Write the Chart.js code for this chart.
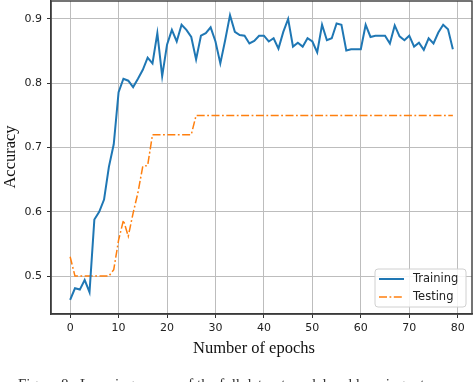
<!DOCTYPE html>
<html>
<head>
<meta charset="utf-8">
<script src="https://cdn.jsdelivr.net/npm/chart.js@4/dist/chart.umd.min.js"></script>
<style>
html,body{margin:0;padding:0;background:#fff;}
canvas{display:block;}
</style>
</head>
<body>
<canvas id="c" width="474" height="382"></canvas>
<script>
const seriesNames = ["Training", "Testing"];
const training = [0.463,0.481,0.479,0.494,0.475,0.588,0.600,0.619,0.670,0.705,
  0.786,0.807,0.804,0.794,0.807,0.821,0.840,0.831,0.878,0.811,
  0.860,0.883,0.865,0.891,0.883,0.872,0.837,0.874,0.878,0.887,
  0.865,0.831,0.867,0.906,0.880,0.875,0.874,0.862,0.866,0.874,
  0.874,0.865,0.870,0.854,0.880,0.900,0.857,0.863,0.857,0.870,
  0.865,0.848,0.891,0.867,0.870,0.893,0.891,0.851,0.853,0.853,
  0.853,0.891,0.872,0.874,0.874,0.874,0.862,0.890,0.873,0.867,
  0.874,0.857,0.863,0.852,0.870,0.862,0.879,0.891,0.884,0.853];
const testing = [0.530,0.500,0.500,0.500,0.500,0.500,0.500,0.500,0.500,0.510,
  0.556,0.587,0.562,0.598,0.630,0.671,0.672,0.720,0.720,0.720,
  0.720,0.720,0.720,0.720,0.720,0.720,0.750,0.750,0.750,0.750,
  0.750,0.750,0.750,0.750,0.750,0.750,0.750,0.750,0.750,0.750,
  0.750,0.750,0.750,0.750,0.750,0.750,0.750,0.750,0.750,0.750,
  0.750,0.750,0.750,0.750,0.750,0.750,0.750,0.750,0.750,0.750,
  0.750,0.750,0.750,0.750,0.750,0.750,0.750,0.750,0.750,0.750,
  0.750,0.750,0.750,0.750,0.750,0.750,0.750,0.750,0.750,0.750];
const xTicks = [0,10,20,30,40,50,60,70,80];
const yTicks = [0.5,0.6,0.7,0.8,0.9];
const xTitle = "Number of epochs";
const yTitle = "Accuracy";
const caption = "Figure 8:  Learning curves of the full dataset model and learning rate";

const epochs = training.map((_, i) => i);
const toXY = arr => arr.map((v, i) => ({x: epochs[i], y: v}));

const decor = {
  id: 'decor',
  afterDraw(chart) {
    const ctx = chart.ctx;
    const a = chart.chartArea;
    ctx.save();
    ctx.strokeStyle = '#3a3a3a';
    ctx.lineWidth = 1.4;
    ctx.strokeRect(a.left, a.top, a.right - a.left, a.bottom - a.top);
    ctx.fillStyle = '#111';
    ctx.font = '16.5px "Liberation Serif", serif';
    ctx.textAlign = 'center';
    ctx.textBaseline = 'alphabetic';
    ctx.fillText(xTitle, 254, 353);
    ctx.save();
    ctx.translate(15, 157);
    ctx.rotate(-Math.PI / 2);
    ctx.fillText(yTitle, 0, 0);
    ctx.restore();
    ctx.font = '15px "Liberation Serif", serif';
    ctx.textAlign = 'left';
    ctx.fillStyle = '#333';
    ctx.fillText(caption, 18, 389);
    const lx = 375, ly = 269, lw = 91, lh = 38;
    ctx.beginPath();
    if (ctx.roundRect) ctx.roundRect(lx, ly, lw, lh, 3); else ctx.rect(lx, ly, lw, lh);
    ctx.fillStyle = 'rgba(255,255,255,0.85)';
    ctx.fill();
    ctx.strokeStyle = '#d0d0d0';
    ctx.lineWidth = 1;
    ctx.stroke();
    const rows = [279, 297];
    chart.data.datasets.forEach((ds, i) => {
      const y = rows[i];
      ctx.beginPath();
      ctx.strokeStyle = ds.borderColor;
      ctx.lineWidth = ds.borderWidth;
      ctx.setLineDash(ds.borderDash || []);
      ctx.moveTo(379, y);
      ctx.lineTo(404, y);
      ctx.stroke();
      ctx.setLineDash([]);
      ctx.fillStyle = '#222';
      ctx.font = '11.5px "DejaVu Sans", sans-serif';
      ctx.textAlign = 'left';
      ctx.textBaseline = 'middle';
      ctx.fillText(ds.label, 413, y);
    });
    ctx.restore();
  }
};

new Chart(document.getElementById('c'), {
  type: 'line',
  data: {
    datasets: [
      {label: seriesNames[0], data: toXY(training), borderColor: '#1f77b4', borderWidth: 2, pointRadius: 0, tension: 0, fill: false},
      {label: seriesNames[1], data: toXY(testing), borderColor: '#ff7f0e', borderWidth: 1.5, borderDash: [8, 2.5, 1.8, 2.5], pointRadius: 0, tension: 0, fill: false}
    ]
  },
  options: {
    responsive: false,
    animation: false,
    events: [],
    layout: {padding: {left: 0, right: 2, top: 1, bottom: 0}},
    plugins: {legend: {display: false}, tooltip: {enabled: false}, title: {display: false}},
    scales: {
      x: {
        type: 'linear', min: -3.95, max: 82.95,
        afterBuildTicks: s => { s.ticks = xTicks.map(v => ({value: v})); },
        afterFit: s => { s.height = 68; s.paddingLeft = 0; s.paddingRight = 0; },
        grid: {color: '#bdbdbd', lineWidth: 1, tickLength: 4, tickColor: '#333', drawTicks: true},
        border: {display: true, color: '#3a3a3a', width: 1.4},
        ticks: {color: '#222', font: {family: '"DejaVu Sans", sans-serif', size: 11}, padding: 4, maxRotation: 0,
          callback: v => String(v)}
      },
      y: {
        type: 'linear', min: 0.441, max: 0.928,
        afterBuildTicks: s => { s.ticks = yTicks.map(v => ({value: v})); },
        afterFit: s => { s.width = 51; s.paddingTop = 0; s.paddingBottom = 0; },
        grid: {color: '#bdbdbd', lineWidth: 1, tickLength: 4, tickColor: '#333', drawTicks: true},
        border: {display: true, color: '#3a3a3a', width: 1.4},
        ticks: {color: '#222', font: {family: '"DejaVu Sans", sans-serif', size: 11}, padding: 5,
          callback: v => v.toFixed(1)}
      }
    }
  },
  plugins: [decor]
});
</script>
</body>
</html>
